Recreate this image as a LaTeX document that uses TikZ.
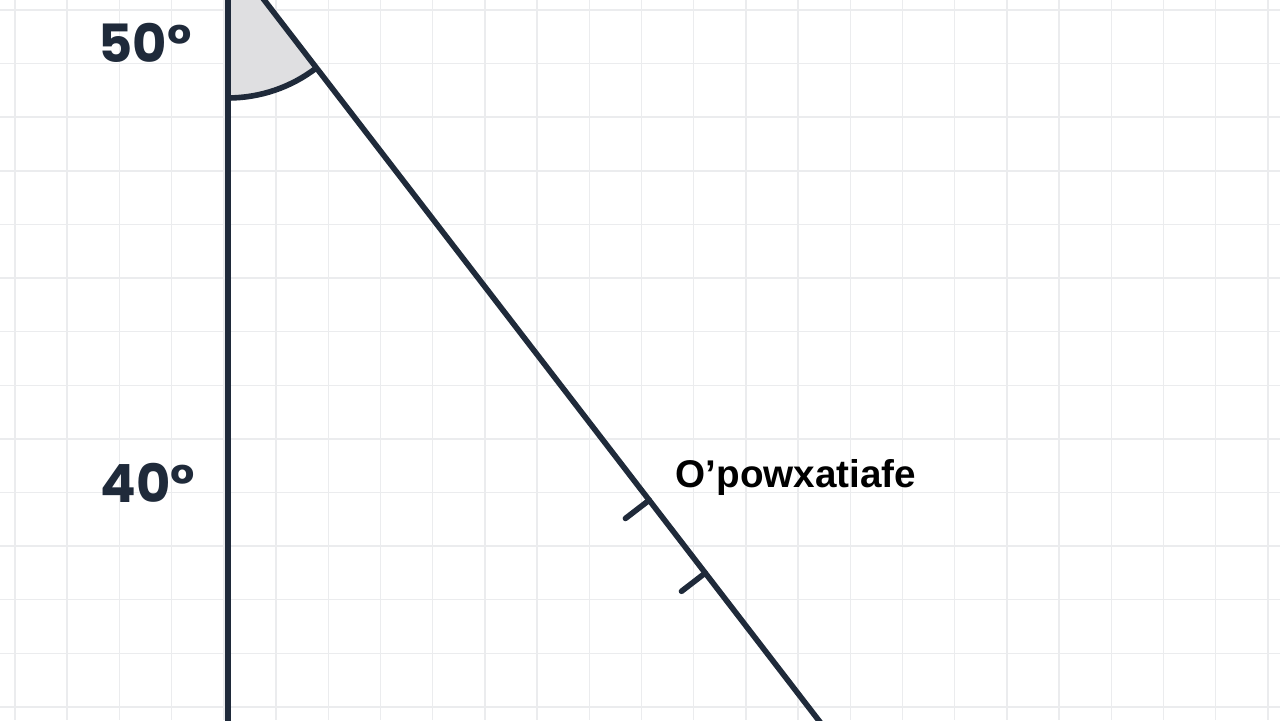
\documentclass[tikz,border=0pt]{standalone}
\usepackage{fontspec}
\usetikzlibrary{calc}
\newfontfamily\anglefont{Poppins}
\newfontfamily\sidefont{Liberation Sans}
\definecolor{navy}{HTML}{1F2A3A}
\definecolor{gridgray}{HTML}{EBECEE}
\definecolor{wedgegray}{HTML}{DFDFE1}
\tikzset{
  gridline/.style={gridgray,line width=0.8pt},
  side/.style={navy,line width=3.2pt},
  anglelabel/.style={navy,font=\anglefont\bfseries\fontsize{30}{30}\selectfont},
  sidelabel/.style={black,font=\sidefont\bfseries\fontsize{22}{22}\selectfont}
}

\begin{document}
\begin{tikzpicture}[x=0.02cm,y=-0.02cm]
  \useasboundingbox (0,0) rectangle (1280,720);
  \fill[white] (0,0) rectangle (1280,720);
  \begin{scope}
    \clip (0,0) rectangle (1280,720);
    % grid paper
    \foreach \i in {0,...,24}
      \draw[gridline] ({15+52.2*\i},0) -- ({15+52.2*\i},720);
    \foreach \j in {0,...,13}
      \draw[gridline] (0,{10+53.6*\j}) -- (1280,{10+53.6*\j});
    % triangle
    \coordinate (top) at (228,-47);
    \coordinate (foot) at (228,800);
    \coordinate (tip) at (880,800);
    \fill[wedgegray] (top) -- ++(-90:2.9cm) arc[start angle=-90,end angle=-52.4,radius=2.9cm] -- cycle;
    \draw[side] (top) ++(-90:2.9cm) arc[start angle=-90,end angle=-52.4,radius=2.9cm];
    \draw[side] (foot) -- (top) -- (tip);
    % tick marks
    \coordinate (tickA) at ($(top)!0.646!(tip)$);
    \coordinate (tickB) at ($(top)!0.732!(tip)$);
    \draw[side,line cap=round] (tickA) -- ($(tickA)!0.6cm!-90:(tip)$);
    \draw[side,line cap=round] (tickB) -- ($(tickB)!0.6cm!-90:(tip)$);
  \end{scope}
  \node[anglelabel] (fifty) at (145,43) {50°};
  \node[anglelabel] (forty) at (148,483) {40°};
  \node[sidelabel] (opp) at (796,477) {O’powxatiafe};
\end{tikzpicture}
\end{document}
